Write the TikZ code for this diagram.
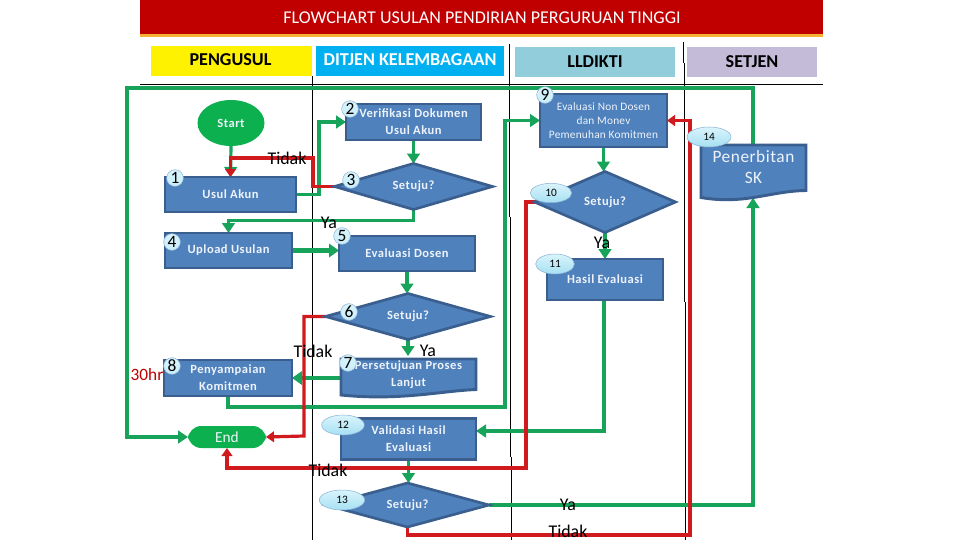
\documentclass[tikz,border=0pt]{standalone}
\usepackage{fontspec}
\setmainfont{Carlito}
\usetikzlibrary{shapes.geometric,arrows.meta,backgrounds}
\definecolor{hdrred}{HTML}{C00000}
\definecolor{hdrorange}{HTML}{F5B335}
\definecolor{hdrblue}{HTML}{00B0F0}
\definecolor{hdrteal}{HTML}{92CDDC}
\definecolor{hdrlilac}{HTML}{C4BBD8}
\definecolor{flowfill}{HTML}{4F81BD}
\definecolor{flowline}{HTML}{3A5F8F}
\definecolor{flowgreen}{HTML}{17A35A}
\definecolor{flowred}{HTML}{D01A1E}
\definecolor{startgreen}{HTML}{0DB04F}
\definecolor{boxtext}{HTML}{EEF3FA}
\definecolor{badgetop}{HTML}{D9F4FC}
\definecolor{badgebot}{HTML}{A6E0F3}
\definecolor{badgeedge}{HTML}{8DB3D6}
\newcommand{\fs}[1]{\fontsize{#1}{#1}\selectfont}
\newcommand{\boxfont}{\fontsize{9.4}{12.6}\selectfont\bfseries\addfontfeature{LetterSpace=4}}
\newcommand{\lowertxt}[1]{\raisebox{-1.3pt}{#1}}
\tikzset{
  x=0.75pt,y=-0.75pt,
  sz/.style 2 args={minimum width=#1*0.75pt,minimum height=#2*0.75pt,inner sep=0pt,outer sep=0pt},
  flowbox/.style={rectangle,draw=flowline,line width=2.2pt,fill=flowfill,text=boxtext,align=center,font=\boxfont},
  flowdia/.style={diamond,aspect=3,draw=flowline,line width=2pt,fill=flowfill,text=boxtext,align=center,font=\boxfont},
  doctext/.style={text=boxtext,align=center},
  head/.style={font=\fs{13.6}\bfseries,text=black,inner sep=0pt},
  badge/.style={circle,draw=badgeedge,line width=0.4pt,top color=badgetop,bottom color=badgebot!60!white,text=black,inner sep=0pt,minimum size=12.5pt,font=\fs{13}},
  oval/.style={ellipse,draw=badgeedge,line width=0.4pt,top color=badgetop,bottom color=badgebot,text=black,inner sep=0pt,font=\fs{8.5}},
  lbl/.style={text=black,font=\fs{13.4},inner sep=0pt},
  gline/.style={draw=flowgreen,line width=2.4pt},
  gthick/.style={draw=flowgreen,line width=3.1pt},
  rline/.style={draw=flowred,line width=2.4pt},
  garrow/.style={gline,-{Triangle[length=7.5pt,width=9.5pt]}},
  gtarrow/.style={gthick,-{Triangle[length=7.5pt,width=10pt]}},
  rarrow/.style={rline,-{Triangle[length=6pt,width=8pt]}},
  sep/.style={draw=black,line width=0.6pt}
}
\begin{document}
\begin{tikzpicture}
\useasboundingbox (0,0) rectangle (960,540);
% header
\fill[hdrred] (140,0) rectangle (823,34);
\fill[hdrorange] (140,34) rectangle (823,37);
\node[text=white,font=\fs{13.5},inner sep=0pt] (title) at (482,18) {FLOWCHART USULAN PENDIRIAN PERGURUAN TINGGI};
\node[sz={161}{30},fill=yellow,anchor=north west] (h1) at (151,46) {};
\node[head] (h1t) at (230.5,60) {PENGUSUL};
\node[sz={188}{30},fill=hdrblue,anchor=north west] (h2) at (316,46) {};
\node[head,text=white] (h2t) at (410,60) {DITJEN KELEMBAGAAN};
\node[sz={160}{30},fill=hdrteal,anchor=north west] (h3) at (515,47) {};
\node[head] (h3t) at (595,62) {LLDIKTI};
\node[sz={130}{30},fill=hdrlilac,anchor=north west] (h4) at (687,47) {};
\node[head] (h4t) at (752,62) {SETJEN};
% boxes
\node[ellipse,sz={67}{46},fill=startgreen,text=boxtext,font=\boxfont] (start) at (231,123) {Start};
\node[flowbox,sz={131}{35}] (b1) at (230.5,194.5) {Usul Akun};
\node[flowbox,sz={135}{36}] (b2) at (413.5,122) {Verifikasi Dokumen\\Usul Akun};
\node[flowdia,sz={158}{46}] (d3) at (413.5,186.5) {Setuju?};
\node[flowbox,sz={127}{35}] (b4) at (228.5,250.5) {\lowertxt{Upload Usulan}};
\node[flowbox,sz={136}{35}] (b5) at (407,253.5) {Evaluasi Dosen};
\node[flowdia,sz={165}{46}] (d6) at (408,316.5) {\lowertxt{Setuju?}};
% box 7 (document shape)
\fill[fill=flowfill,draw=flowline,line width=2.2pt] (341,359) -- (476,359) -- (476,389.5) .. controls (440,391) and (400,401) .. (341,395) -- cycle;
\node[doctext,sz={137}{38},font=\boxfont] (b7) at (408.5,375) {Persetujuan Proses\\Lanjut};
\node[flowbox,sz={128}{36}] (b8) at (228,378) {Penyampaian\\Komitmen};
\node[rectangle,rounded corners=10pt,sz={78}{22},fill=startgreen,text=boxtext,font=\fs{11.5}] (end) at (227,437) {End};
\node[flowbox,sz={135}{41}] (b12) at (408.5,439) {Validasi Hasil\\Evaluasi};
\node[flowdia,sz={163}{44}] (d13) at (407.5,505) {Setuju?};
\node[flowbox,sz={127}{53},font=\fs{8.5}\addfontfeature{LetterSpace=2},execute at begin node={\baselineskip=10.6pt}] (b9) at (603.5,120.5) {Evaluasi Non Dosen\\dan Monev\\Pemenuhan Komitmen};
\node[flowdia,sz={141}{61}] (d10) at (605,202) {\lowertxt{Setuju?}};
\node[flowbox,sz={116}{41}] (b11) at (605,279.5) {Hasil Evaluasi};
% box 14 (document shape)
\fill[fill=flowfill,draw=flowline,line width=2.2pt] (701,145) -- (806,145) -- (806,190.5) .. controls (770,191) and (745,205) .. (701,197.5) -- cycle;
\node[doctext,sz={107}{46},font=\fontsize{13}{15.5}\selectfont\addfontfeature{LetterSpace=3}] (b14) at (753.5,167) {Penerbitan\\SK};
\coordinate (b14foot) at (753,198);
% badges
\node[badge] (n1) at (175,178) {1};
\node[badge] (n2) at (350,109) {2};
\node[badge] (n3) at (351,180) {3};
\node[badge] (n4) at (172,242) {4};
\node[badge] (n5) at (342,236) {5};
\node[badge] (n6) at (349,312) {6};
\node[badge] (n7) at (348,363) {7};
\node[badge] (n8) at (172,366) {8};
\node[badge] (n9) at (545,95) {9};
\node[oval,minimum width=31pt,minimum height=14.5pt] (n10) at (551,193) {10};
\node[oval,minimum width=29pt,minimum height=15pt] (n11) at (555,264) {11};
\node[oval,minimum width=32pt,minimum height=15pt] (n12) at (343,425) {12};
\node[oval,minimum width=34pt,minimum height=15pt] (n13) at (342,500) {13};
\node[oval,minimum width=33pt,minimum height=15pt] (n14) at (709,137) {14};
% labels
\node[lbl] (t1) at (287,158) {Tidak};
\node[lbl] (y1) at (329,223) {Ya};
\node[lbl] (t2) at (313,351) {Tidak};
\node[lbl] (y2) at (428,351) {Ya};
\node[lbl] (t3) at (328,470) {Tidak};
\node[lbl] (y3) at (568,505) {Ya};
\node[lbl] (t4) at (568,531) {Tidak};
\node[lbl] (y4) at (602,243) {Ya};
\node[text=hdrred,font=\fs{13},inner sep=0pt] (hr) at (147,375) {30hr};
% separators and connectors
\begin{pgfonlayer}{background}
\fill[white] (0,0) rectangle (960,540);
\coordinate (sepL) at (140,84);
\coordinate (sepR) at (823,84);
\draw[sep] (sepL) -- (sepR);
\coordinate (v1a) at (312,76); \coordinate (v1b) at (312,540);
\draw[sep] (v1a) -- (v1b);
\coordinate (v2a) at (509,44); \coordinate (v2b) at (509,217);
\coordinate (v2c) at (510.5,217); \coordinate (v2d) at (510.5,457);
\coordinate (v2e) at (511.5,457); \coordinate (v2f) at (511.5,540);
\draw[sep] (v2a) -- (v2b); \draw[sep] (v2c) -- (v2d); \draw[sep] (v2e) -- (v2f);
\coordinate (v3a) at (683,42); \coordinate (v3b) at (683,63);
\coordinate (v3c) at (684,63); \coordinate (v3d) at (684,302);
\coordinate (v3e) at (685,302); \coordinate (v3f) at (685,540);
\draw[sep] (v3a) -- (v3b); \draw[sep] (v3c) -- (v3d); \draw[sep] (v3e) -- (v3f);
% green
\draw[garrow] (start.south) -- (b1.north);
\draw[garrow] (b1.east) -- ++(23,0) |- (b2.west);
\draw[garrow] (b2.south) -- (b2.south |- d3.north);
\draw[garrow] (d3.south) -- ++(0,11) -| (b4.north);
\draw[gtarrow] (b4.east) -- (b5.west |- b4.east);
\draw[garrow] (b5.south) -- (b5.south |- d6.north);
\draw[garrow] (d6.south) -- (d6.south |- b7.north);
\draw[gtarrow] (b7.west |- 0,378) -- (b8.east |- 0,378);
\coordinate (loopA) at (505,407);
\draw[garrow] (b8.south) |- (loopA) |- (b9.west);
\draw[garrow] (b9.south) -- (b9.south |- d10.north);
\draw[garrow] (d10.south) -- (d10.south |- b11.north);
\coordinate (b11c) at (604,431);
\draw[garrow] (b11.south -| b11c) -- (b11c) -- (b12.east |- b11c);
\draw[garrow] (b12.south) -- (b12.south |- d13.north);
\draw[garrow] (d13.east) -| (b14foot);
\coordinate (topA) at (753,88); \coordinate (topB) at (127,88);
\draw[garrow] (b14.north -| topA) -- (topA) -- (topB) |- (end.west);
% red
\coordinate (r3a) at (313,158);
\draw[rarrow] (d3.west) -| (r3a) -| (b1.north);
\coordinate (r6a) at (304,436);
\draw[rarrow] (d6.west) -| (r6a) -- (end.east);
\coordinate (r10a) at (526,468);
\draw[rarrow] (d10.west) -| (r10a) -| (end.south);
\coordinate (r13a) at (690,535);
\draw[rarrow] (d13.south) |- (r13a) |- (b9.east);
\end{pgfonlayer}
\end{tikzpicture}
\end{document}
